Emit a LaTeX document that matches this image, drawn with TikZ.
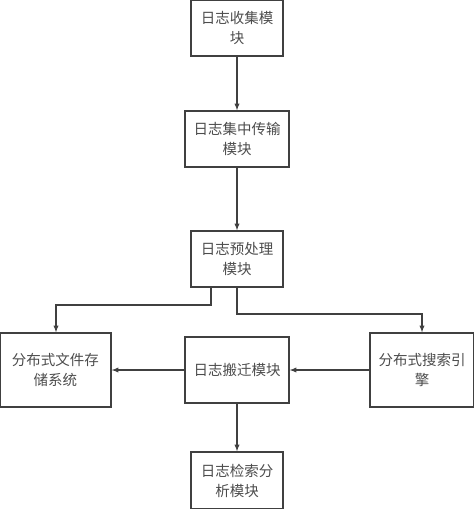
\documentclass[tikz,border=0pt]{standalone}
\usepackage{fontspec}
\newfontfamily\cjk{Noto Sans CJK SC}
\usetikzlibrary{calc,arrows}

\begin{document}
\begin{tikzpicture}[>=latex,x=1pt,y=-1pt,
    modbox/.style={draw=black!75,line width=1.3pt,inner sep=0pt,align=center,
        font=\cjk\fontsize{14.5}{20}\selectfont,text=black!70},
    link/.style={->,draw=black!75,line width=1.3pt}]
            \useasboundingbox (0,0) rectangle (474,509);
            \node[modbox,minimum width=92pt,minimum height=56pt] (collect) at (237,28) {日志收集模\\块};
            \node[modbox,minimum width=104pt,minimum height=56pt] (trans) at (237,139) {日志集中传输\\模块};
            \node[modbox,minimum width=92pt,minimum height=56pt] (pre) at (237,259) {日志预处理\\模块};
            \node[modbox,minimum width=111pt,minimum height=74pt] (dfs) at (55.5,370) {分布式文件存\\储系统};
            \node[modbox,minimum width=104pt,minimum height=66pt] (move) at (237,370) {日志搬迁模块};
            \node[modbox,minimum width=104pt,minimum height=74pt] (search) at (422,370) {分布式搜索引\\擎};
            \node[modbox,minimum width=92pt,minimum height=57pt] (query) at (237,480.5) {日志检索分\\析模块};

            \draw[link] (collect) -- (trans);
            \draw[link] (trans) -- (pre);
            \coordinate (P) at (211,287);
            \draw[link] (P) |- (56,305) -- (dfs.north-|56,0);
            \draw[link] (pre.south) |- (422,314) -- (search.north);
            \draw[link] (search.west) -- (move.east);
            \draw[link] (move.west) -- (dfs.east);
            \draw[link] (move) -- (query);
        \end{tikzpicture}
\end{document}
